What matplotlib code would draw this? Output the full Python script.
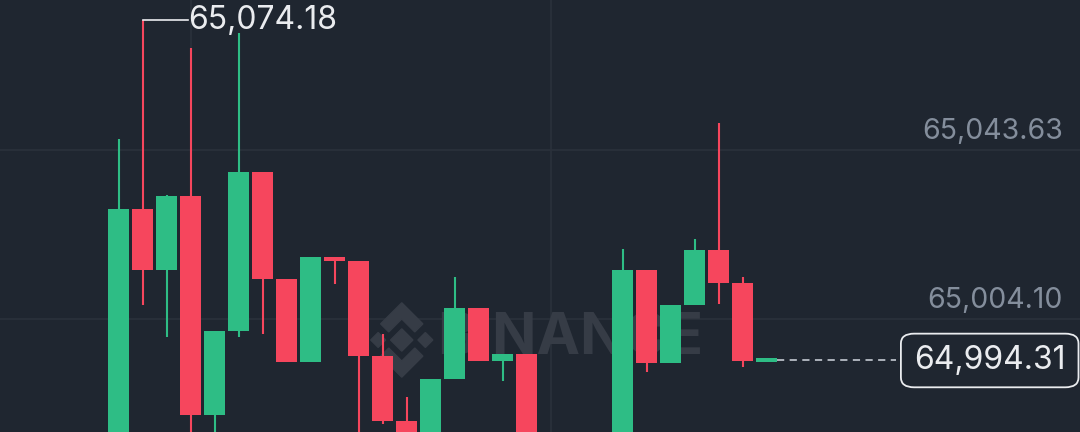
import matplotlib
matplotlib.use("Agg")
import matplotlib.pyplot as plt
import numpy as np
from matplotlib.patches import FancyBboxPatch, Polygon

plt.rcParams['font.family'] = ['Inter', 'DejaVu Sans']

# OHLC data (None = candle slot outside visible area)
opens = [64968.0, 65029.96, 65015.56, 65033.01, 64981.43, 65001.30, 65038.58, 65013.52,
         64993.95, 65018.54, 65017.61, 64995.29, 64980.09, 64972.0, 64989.89, 65006.57,
         64994.19, 64995.83, None, None, None, 64972.0, 65015.49, 64993.79, 65007.34,
         65020.26, 65012.51, 64994.00]
highs = [65046.26, 65074.18, 65033.10, 65067.78, 65001.30, 65071.16, 65038.58, 65013.52,
         65018.54, 65018.54, 65017.61, 65000.46, 64985.66, 64989.89, 65013.92, 65006.57,
         64995.83, 64995.83, None, None, None, 65020.42, 65015.49, 65007.34, 65022.84,
         65050.02, 65013.85, 64994.31]
lows = [64960.0, 65007.41, 64999.89, 64972.0, 64970.0, 64999.89, 65000.46, 64993.95,
        64993.95, 65012.20, 64970.0, 64979.50, 64970.0, 64970.0, 64989.89, 64994.19,
        64989.49, 64968.0, None, None, None, 64968.0, 64991.53, 64993.79, 65007.34,
        65007.58, 64992.85, 64994.00]
closes = [65029.96, 65015.56, 65033.01, 64981.43, 65001.30, 65038.58, 65013.52, 64993.95,
          65018.54, 65017.77, 64995.29, 64980.16, 64972.0, 64989.89, 65006.57, 64994.19,
          64995.83, 64971.0, None, None, None, 65015.49, 64993.79, 65007.34, 65020.26,
          65012.51, 64994.26, 64994.31]

grid_prices = [65043.63, 65004.10]
grid_slots = [3, 18]
high_label = "65,074.18"
last_label = "64,994.31"

BG = '#1f2630'
GRID = '#2b313b'
UP = '#2ebd85'
DOWN = '#f6465d'

fig = plt.figure(figsize=(10.8, 4.32), dpi=100, facecolor=BG)
ax = fig.add_axes([0, 0, 1, 1])
ax.set_facecolor(BG)
ax.set_xlim(-4.9375, 40.0625)
ax.set_ylim(64977.51, 65078.98)
for s in ax.spines.values():
    s.set_visible(False)
ax.set_xticks([])
ax.set_yticks([])

# grid
for p in grid_prices:
    ax.axhline(p, color=GRID, lw=1.2, zorder=0)
for g in grid_slots:
    ax.axvline(g, color=GRID, lw=1.2, zorder=0)

# watermark
wm = '#363c46'
ax.text(0.405, 0.213, "BINANCE", transform=ax.transAxes, color=wm, fontsize=42,
        fontweight='bold', ha='left', va='center', zorder=1)
cx, cy = 0.372, 0.213
sx, sy = 0.0115, 0.0287
def diamond(x, y, r):
    return Polygon([[x, y + r * sy], [x + r * sx, y], [x, y - r * sy], [x - r * sx, y]],
                   closed=True, transform=ax.transAxes, color=wm, zorder=1)
ax.add_patch(diamond(cx, cy, 0.9))
for dx, dy in [(-1.9, 0), (1.9, 0)]:
    ax.add_patch(diamond(cx + dx * sx, cy + dy * sy, 0.6))
ax.add_patch(Polygon([[cx, cy + 3.0 * sy], [cx + 1.7 * sx, cy + 1.3 * sy], [cx + 1.05 * sx, cy + 0.65 * sy],
                      [cx, cy + 1.7 * sy], [cx - 1.05 * sx, cy + 0.65 * sy], [cx - 1.7 * sx, cy + 1.3 * sy]],
                     closed=True, transform=ax.transAxes, color=wm, zorder=1))
ax.add_patch(Polygon([[cx, cy - 3.0 * sy], [cx + 1.7 * sx, cy - 1.3 * sy], [cx + 1.05 * sx, cy - 0.65 * sy],
                      [cx, cy - 1.7 * sy], [cx - 1.05 * sx, cy - 0.65 * sy], [cx - 1.7 * sx, cy - 1.3 * sy]],
                     closed=True, transform=ax.transAxes, color=wm, zorder=1))

# candles
min_body = 0.8
for i in range(len(opens)):
    o, h, l, c = opens[i], highs[i], lows[i], closes[i]
    if o is None:
        continue
    col = UP if c >= o else DOWN
    ax.vlines(i, l, h, color=col, lw=1.5, zorder=3)
    bottom = min(o, c)
    height = max(abs(c - o), min_body)
    ax.bar(i, height, bottom=bottom, width=0.875, color=col, zorder=3)

# right-side price labels
for p in grid_prices:
    ax.annotate(f"{p:,.2f}", xy=(1063, p), xycoords=('figure pixels', 'data'),
                xytext=(0, 5), textcoords='offset pixels',
                ha='right', va='bottom', color='#848e9c', fontsize=20.5, zorder=5)

# highest price marker
hi_idx = int(np.argmax([v if v is not None else -1 for v in highs]))
hi_val = highs[hi_idx]
ax.plot([hi_idx, hi_idx + 1.9], [hi_val, hi_val], color='#eaecef', lw=1.2, zorder=4)
ax.text(hi_idx + 1.92, hi_val, high_label, color='#eaecef', fontsize=23,
        ha='left', va='center', zorder=5)

# last price dashed line and box
last_idx = len(closes) - 1
last_val = closes[last_idx]
ax.plot([last_idx + 0.45, 32.4], [last_val, last_val], color='#b7bdc6', lw=1.3,
        ls=(0, (4, 3)), zorder=2)
box_w, box_h = 7.4, 12.6
ax.add_patch(FancyBboxPatch((32.6, last_val - box_h / 2), box_w, box_h,
                            boxstyle="round,pad=0,rounding_size=0.55",
                            mutation_aspect=4.2, facecolor=BG, edgecolor='#eaecef',
                            lw=1.3, zorder=5))
ax.text(32.6 + box_w / 2, last_val, last_label, color='#eaecef', fontsize=23,
        ha='center', va='center', zorder=6)

fig.savefig("out.png", dpi=100, facecolor=BG)
